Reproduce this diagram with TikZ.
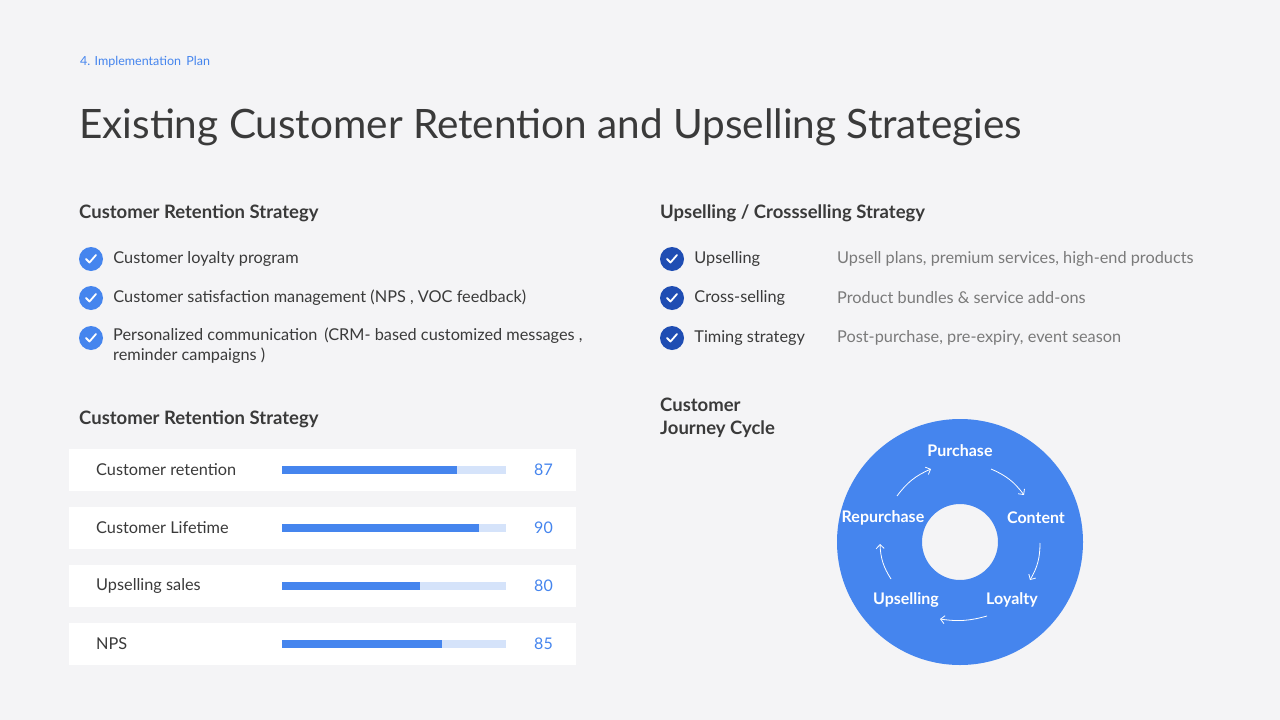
\documentclass[tikz,border=0pt]{standalone}
\usepackage{fontspec}
\setmainfont{Lato}
\usetikzlibrary{arrows.meta,positioning}
\definecolor{pagebg}{HTML}{F4F4F6}
\definecolor{mainblue}{HTML}{4585EE}
\definecolor{darkblue}{HTML}{1F4DB3}
\definecolor{lightbar}{HTML}{D5E3FA}
\definecolor{txt}{HTML}{3A3A3A}
\definecolor{greytxt}{HTML}{7A7A7A}
\tikzset{
  heading/.style = {anchor=west, font=\fontsize{18.5}{22}\selectfont\bfseries, text=txt, inner sep=0pt},
  item/.style = {anchor=west, font=\fontsize{16.3}{20}\selectfont, text=txt, inner sep=0pt, align=left},
  note/.style = {anchor=west, font=\fontsize{16.3}{20}\selectfont, text=greytxt, inner sep=0pt},
  tick/.style = {circle, fill=#1, minimum size=24pt, inner sep=0pt},
  card/.style = {fill=white, minimum width=507pt, minimum height=42pt, inner sep=0pt, anchor=north west},
  value/.style = {anchor=east, font=\fontsize{16}{18}\selectfont, text=mainblue, inner sep=0pt},
  stage/.style = {font=\fontsize{16}{18}\selectfont\bfseries, text=white, inner sep=0pt},
  cyc/.style = {-{Straight Barb[length=4pt]}, white, line width=0.8pt}
}
\newcommand{\checkmk}[1]{\draw[white, line width=1.8pt, line cap=round, line join=round]
  ([shift={(-5pt,0pt)}]#1.center) -- ([shift={(-1.5pt,-3.5pt)}]#1.center) -- ([shift={(5pt,4pt)}]#1.center);}
\begin{document}
\begin{tikzpicture}[x=1pt, y=-1pt]
  \fill[pagebg] (0,0) rectangle (1280,720);
  \useasboundingbox (0,0) rectangle (1280,720);
  % titles
  \node[anchor=west, font=\fontsize{12.5}{14}\selectfont, text=mainblue, inner sep=0pt] (crumb) at (80,62) {4. Implementation\, Plan};
  \node[anchor=west, font=\fontsize{40.5}{44}\selectfont, text=txt, inner sep=0pt] (title) at (79,127) {Existing Customer Retention and Upselling Strategies};
  % left list
  \node[heading] (lefthead) at (79,213) {Customer Retention Strategy};
  \foreach \y/\n in {259/t1, 298/t2, 338/t3} {
    \node[tick=mainblue] (\n) at (91,\y) {};
    \checkmk{\n}
  }
  \node[item, right=10pt of t1] (loyal) {Customer loyalty program};
  \node[item, right=10pt of t2] (satis) {Customer satisfaction management (NPS , VOC feedback)};
  \node[item, anchor=north west] (perso) at (113,328) {Personalized communication\, (CRM- based customized messages ,\\reminder campaigns )};
  % right list
  \node[heading] (righthead) at (660,213) {Upselling / Crossselling Strategy};
  \foreach \y/\n in {259/u1, 298/u2, 338/u3} {
    \node[tick=darkblue] (\n) at (672,\y) {};
    \checkmk{\n}
  }
  \node[item, right=10pt of u1] (ups) {Upselling};
  \node[item, right=10pt of u2] (cross) {Cross-selling};
  \node[item, right=10pt of u3] (timing) {Timing strategy};
  \node[note] (upsnote) at (837,259) {Upsell plans, premium services, high-end products};
  \node[note] (crossnote) at (837,298) {Product bundles \& service add-ons};
  \node[note] (timingnote) at (837,338) {Post-purchase, pre-expiry, event season};
  % bars
  \node[heading] (barhead) at (79,419) {Customer Retention Strategy};
  \foreach \y/\lab/\e/\v/\n in {449/Customer retention/457/87/b1, 507/Customer Lifetime/479/90/b2,
                                565/Upselling sales/420/80/b3, 623/NPS/442/85/b4} {
    \node[card] (\n) at (69,\y) {};
    \node[item] at (96,\y+21) {\lab};
    \fill[lightbar] (282,\y+17) rectangle (506,\y+25);
    \fill[mainblue] (282,\y+17) rectangle (\e,\y+25);
    \node[value] at (553,\y+21) {\v};
  }
  % journey cycle
  \node[anchor=north west, font=\fontsize{18.5}{23}\selectfont\bfseries, text=txt, inner sep=0pt, align=left] (cychead) at (660,398) {Customer\\Journey Cycle};
  \fill[mainblue, even odd rule] (960,542) circle[radius=123] (960,542) circle[radius=38];
  \node[stage] (purchase) at (960,451) {Purchase};
  \node[stage] (content) at (1036,518) {Content};
  \node[stage] (loyalty) at (1012,600) {Loyalty};
  \node[stage] (upsell) at (906,600) {Upselling};
  \node[stage] (repurch) at (883,518) {Repurchase};
  \draw[cyc] (991,469) to[bend left=15] (1024,495);
  \draw[cyc] (1040,543) to[bend left=15] (1030,580);
  \draw[cyc] (987,616) to[bend left=12] (940,619);
  \draw[cyc] (891,579) to[bend left=15] (880,544);
  \draw[cyc] (897,496) to[bend left=15] (931,469);
\end{tikzpicture}
\end{document}
